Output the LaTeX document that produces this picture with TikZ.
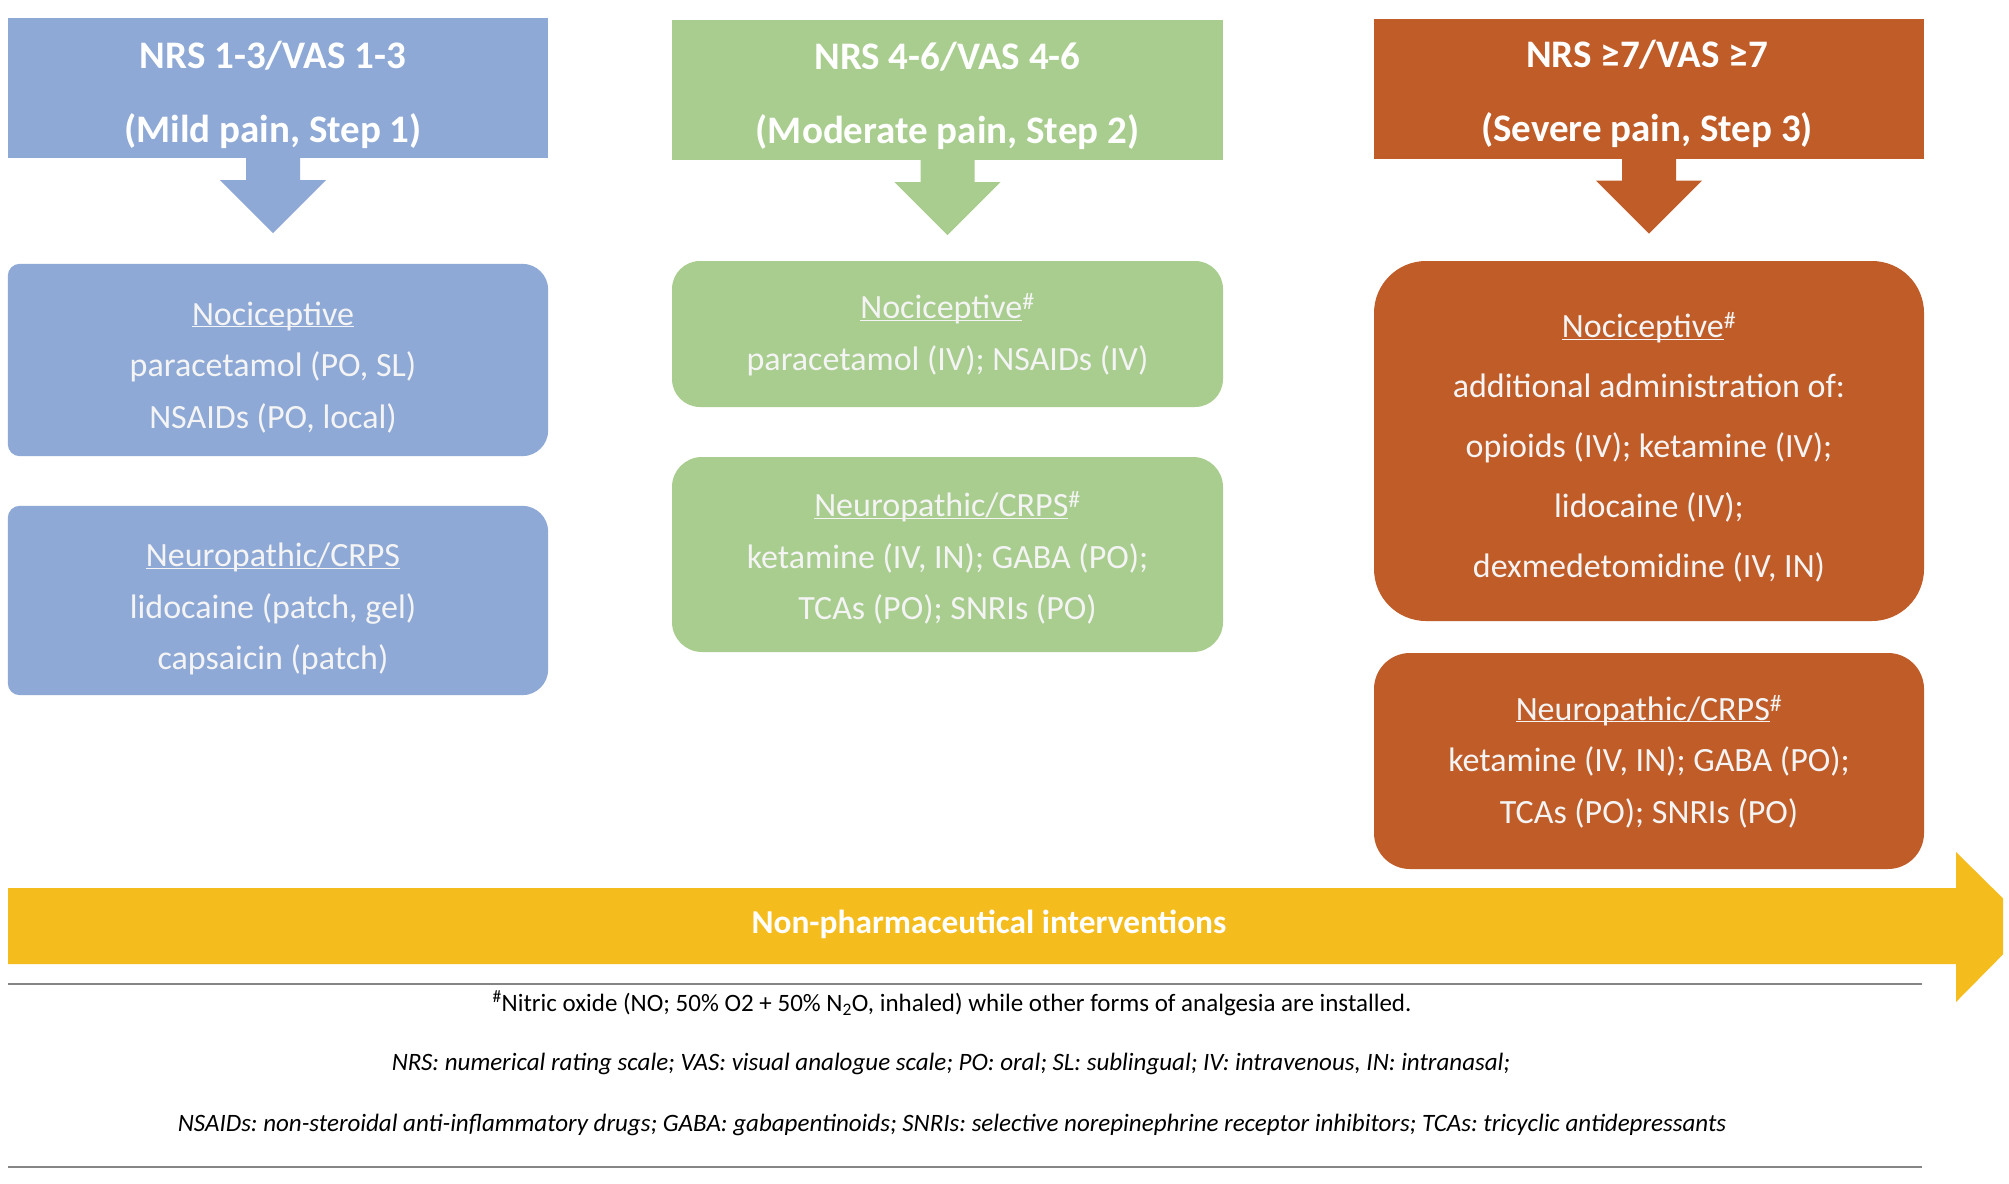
\documentclass[tikz,border=0pt]{standalone}
\usepackage{fontspec}
\setmainfont{Carlito}
\usetikzlibrary{calc}
\definecolor{cblue}{HTML}{8EA9D6}
\definecolor{cgreen}{HTML}{A8CD8E}
\definecolor{corange}{HTML}{BF5C28}
\definecolor{cyellow}{HTML}{F5BC1E}
\definecolor{cgray}{HTML}{858585}
\definecolor{ctext}{HTML}{F4F4F4}
\newcommand\ulhead[1]{\vphantom{A\textsuperscript{\#}}\underline{\smash{#1}}}
\tikzset{
  header/.style={fill=#1, draw=none, minimum height=140pt, inner sep=0pt},
  headtext/.style={inner sep=0pt, text=white, font=\fontsize{39}{74}\selectfont\bfseries, align=center},
  drug/.style={fill=#1, draw=none, rounded corners=25pt, inner sep=0pt},
  boxslot/.style={draw=none, fill=none, inner sep=0pt},
  drugtext/.style={inner sep=0pt, text=ctext, font=\fontsize{34}{51.5}\selectfont, align=center},
  note/.style={font=\fontsize{25}{30}\selectfont, text=black, inner sep=0pt},
  hrule/.style={draw=cgray, line width=2.5pt},
  pics/downblock/.style={code={
    \fill[#1] (-27,0) -- (27,0) -- (27,22) -- (53,22) -- (0,75) -- (-53,22) -- (-27,22) -- cycle;}},
}
\begin{document}
\frenchspacing
\begin{tikzpicture}[x=1pt,y=-1pt]
\useasboundingbox (0,0) rectangle (2009,1183);
\fill[white] (0,0) rectangle (2009,1183);

% headers
\node[header=cblue, minimum width=540pt] (hB) at (278,88) {};
\node[header=cgreen, minimum width=551pt] (hG) at (947.5,90) {};
\node[header=corange, minimum width=550pt] (hO) at (1649,88.5) {};
\node[headtext] (hBt) at (273,95) {NRS 1-3/VAS 1-3\\(Mild pain, Step 1)};
\node[headtext] (hGt) at (947.5,96) {NRS 4-6/VAS 4-6\\(Moderate pain, Step 2)};
\node[headtext] (hOt) at (1647,93.5) {NRS \char"2265 7/VAS \char"2265 7\\(Severe pain, Step 3)};

% block arrows
\pic at ($(hB.south)+(-5,0)$) {downblock=cblue};
\pic at (hG.south) {downblock=cgreen};
\pic at (hO.south) {downblock=corange};

% step 1 boxes (left corners less rounded)
\node[boxslot, minimum width=540pt, minimum height=192pt] (nB) at (278,360) {};
\fill[cblue] (nB.west) [rounded corners=12pt] -- (nB.north west) [rounded corners=26pt] -- (nB.north east)
  -- (nB.south east) [rounded corners=12pt] -- (nB.south west) -- cycle;
\node[drugtext] (nBt) at (273,366.5)
  {\ulhead{Nociceptive}\\paracetamol (PO, SL)\\NSAIDs (PO, local)};
\node[boxslot, minimum width=540pt, minimum height=189pt] (pB) at (278,600.5) {};
\fill[cblue] (pB.west) [rounded corners=12pt] -- (pB.north west) [rounded corners=26pt] -- (pB.north east)
  -- (pB.south east) [rounded corners=12pt] -- (pB.south west) -- cycle;
\node[drugtext] (pBt) at (273,608.5)
  {\ulhead{Neuropathic/CRPS}\\lidocaine (patch, gel)\\capsaicin (patch)};

% step 2 boxes
\node[drug=cgreen, minimum width=551pt, minimum height=146pt, rounded corners=28pt] (nG) at (947.5,334) {};
\node[drugtext] (nGt) at (947.5,334.5)
  {\ulhead{Nociceptive}\textsuperscript{\#}\\paracetamol (IV); NSAIDs (IV)};
\node[drug=cgreen, minimum width=551pt, minimum height=195pt, rounded corners=30pt] (pG) at (947.5,554.5) {};
\node[drugtext] (pGt) at (947.5,558)
  {\ulhead{Neuropathic/CRPS}\textsuperscript{\#}\\ketamine (IV, IN); GABA (PO);\\TCAs (PO); SNRIs (PO)};

% step 3 boxes
\node[drug=corange, minimum width=550pt, minimum height=360pt, rounded corners=52pt] (nO) at (1649,441) {};
\node[drugtext, font=\fontsize{34}{60}\selectfont] (nOt) at (1649,447.5)
  {\ulhead{Nociceptive}\textsuperscript{\#}\\additional administration of:\\opioids (IV); ketamine (IV);\\lidocaine (IV);\\dexmedetomidine (IV, IN)};
\node[drug=corange, minimum width=550pt, minimum height=216pt, rounded corners=36pt] (pO) at (1649,761) {};
\node[drugtext] (pOt) at (1649,761.5)
  {\ulhead{Neuropathic/CRPS}\textsuperscript{\#}\\ketamine (IV, IN); GABA (PO);\\TCAs (PO); SNRIs (PO)};

% non-pharmaceutical arrow
\begin{scope}
  \clip (0,0) rectangle (2003,1183);
  \fill[cyellow] (8,888) -- (1956,888) -- (1956,852) -- (2031,926) -- (1956,1002) -- (1956,964) -- (8,964) -- cycle;
\end{scope}
\node[text=white, font=\fontsize{33.4}{38}\selectfont\bfseries, inner sep=0pt] (np) at (989,924) {Non-pharmaceutical interventions};

% footnotes
\coordinate (r1a) at (8,984);
\coordinate (r1b) at (1922,984);
\coordinate (r2a) at (8,1167);
\coordinate (r2b) at (1922,1167);
\draw[hrule] (r1a) -- (r1b);
\draw[hrule] (r2a) -- (r2b);
\node[note] (f1) at (952,1003) {\textsuperscript{\#}Nitric oxide (NO; 50\% O2 + 50\% N\textsubscript{2}O, inhaled) while other forms of analgesia are installed.};
\node[note, font=\fontsize{25}{30}\selectfont\itshape] (f2) at (951,1064) {NRS: numerical rating scale; VAS: visual analogue scale; PO: oral; SL: sublingual; IV: intravenous, IN: intranasal;};
\node[note, font=\fontsize{25}{30}\selectfont\itshape] (f3) at (952,1125) {NSAIDs: non-steroidal anti-inflammatory drugs; GABA: gabapentinoids; SNRIs: selective norepinephrine receptor inhibitors; TCAs: tricyclic antidepressants};
\end{tikzpicture}
\end{document}
